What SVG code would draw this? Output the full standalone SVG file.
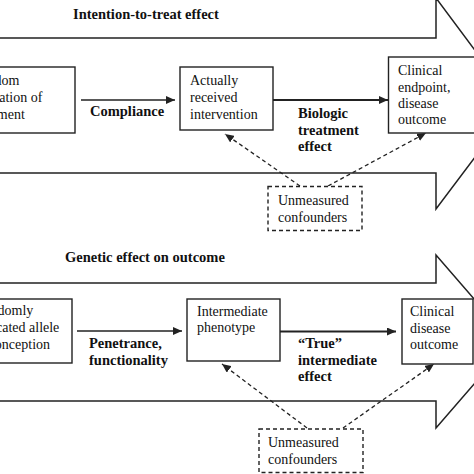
<svg xmlns="http://www.w3.org/2000/svg" width="474" height="474" viewBox="0 0 474 474">
<style>
text{font-family:"Liberation Serif","Times New Roman",serif;fill:#111}
.r{font-size:14px}
.b{font-size:14.5px;font-weight:bold}
.big{fill:none;stroke:#222;stroke-width:1.5;stroke-linejoin:miter}
.box{fill:#fff;stroke:#222;stroke-width:1.4}
.dbox{fill:#fff;stroke:#222;stroke-width:1.4;stroke-dasharray:4 3}
.ln{stroke:#222;stroke-width:1.3;fill:none}
.lnb{stroke:#222;stroke-width:2;fill:none}
.dl{stroke:#222;stroke-width:1.3;stroke-dasharray:4 3;fill:none}
</style>
<defs>
<marker id="ah" markerUnits="userSpaceOnUse" markerWidth="10" markerHeight="8" refX="9" refY="4" orient="auto">
<path d="M0,0 L9,4 L0,8 Z" fill="#222"/>
</marker>
</defs>
<rect width="474" height="474" fill="#fff"/>

<g id="arrow-itt">
<path class="big" d="M-5,38 H436 V-2 L515,104 L436,209 V173 H-5"/>
<text class="b" x="73" y="19">Intention-to-treat effect</text>
</g>
<g id="arrow-genetic">
<path class="big" d="M-5,283 H436 V255 L511,341.5 L436,428 V401 H-5"/>
<text class="b" x="65" y="262">Genetic effect on outcome</text>
</g>

<g id="connectors">
<line class="ln" x1="81" y1="100" x2="175" y2="100" marker-end="url(#ah)"/>
<line class="lnb" x1="273" y1="100" x2="388" y2="100" marker-end="url(#ah)"/>
<line class="dl" x1="300" y1="186" x2="225" y2="134" marker-end="url(#ah)"/>
<line class="dl" x1="328" y1="186" x2="426" y2="133" marker-end="url(#ah)"/>
<line class="ln" x1="77" y1="331" x2="182" y2="331" marker-end="url(#ah)"/>
<line class="lnb" x1="280" y1="331.5" x2="396" y2="331.5" marker-end="url(#ah)"/>
<line class="dl" x1="307" y1="428" x2="222" y2="364" marker-end="url(#ah)"/>
<line class="dl" x1="343" y1="428" x2="434" y2="364" marker-end="url(#ah)"/>
<text class="b" x="90" y="116">Compliance</text>
<text class="b" x="298" y="118">Biologic</text>
<text class="b" x="298" y="134.5">treatment</text>
<text class="b" x="298" y="151">effect</text>
<text class="b" x="89" y="348">Penetrance,</text>
<text class="b" x="89" y="364.5">functionality</text>
<text class="b" x="298" y="348">“True”</text>
<text class="b" x="298" y="364.5">intermediate</text>
<text class="b" x="298" y="381">effect</text>
</g>

<g id="node-random">
<rect class="box" x="-10" y="67" width="85" height="66"/>
<text class="r" x="-28" y="85">Random</text>
<text class="r" x="-28" y="102">allocation of</text>
<text class="r" x="-28" y="119">treatment</text>
</g>
<g id="node-received">
<rect class="box" x="180" y="67" width="93" height="63"/>
<text class="r" x="190" y="85">Actually</text>
<text class="r" x="190" y="102">received</text>
<text class="r" x="190" y="119">intervention</text>
</g>
<g id="node-clinical-1">
<rect class="box" x="388.5" y="57" width="90" height="76"/>
<text class="r" x="398" y="75">Clinical</text>
<text class="r" x="398" y="91.5">endpoint,</text>
<text class="r" x="398" y="107.5">disease</text>
<text class="r" x="398" y="124">outcome</text>
</g>
<g id="node-confounders-1">
<rect class="dbox" x="268" y="186.5" width="94" height="44"/>
<text class="r" x="278" y="205">Unmeasured</text>
<text class="r" x="278" y="222">confounders</text>
</g>

<g id="node-allele">
<rect class="box" x="-10" y="299" width="82" height="64"/>
<text class="r" x="-25" y="315">Randomly</text>
<text class="r" x="-25" y="332">allocated allele</text>
<text class="r" x="-25" y="349">at conception</text>
</g>
<g id="node-phenotype">
<rect class="box" x="187" y="299" width="93" height="62"/>
<text class="r" x="197" y="316">Intermediate</text>
<text class="r" x="197" y="332">phenotype</text>
</g>
<g id="node-clinical-2">
<rect class="box" x="402" y="299" width="71" height="65"/>
<text class="r" x="410" y="316">Clinical</text>
<text class="r" x="410" y="332.5">disease</text>
<text class="r" x="410" y="349">outcome</text>
</g>
<g id="node-confounders-2">
<rect class="dbox" x="259" y="429" width="104" height="43.5"/>
<text class="r" x="268" y="447">Unmeasured</text>
<text class="r" x="268" y="464">confounders</text>
</g>
</svg>
